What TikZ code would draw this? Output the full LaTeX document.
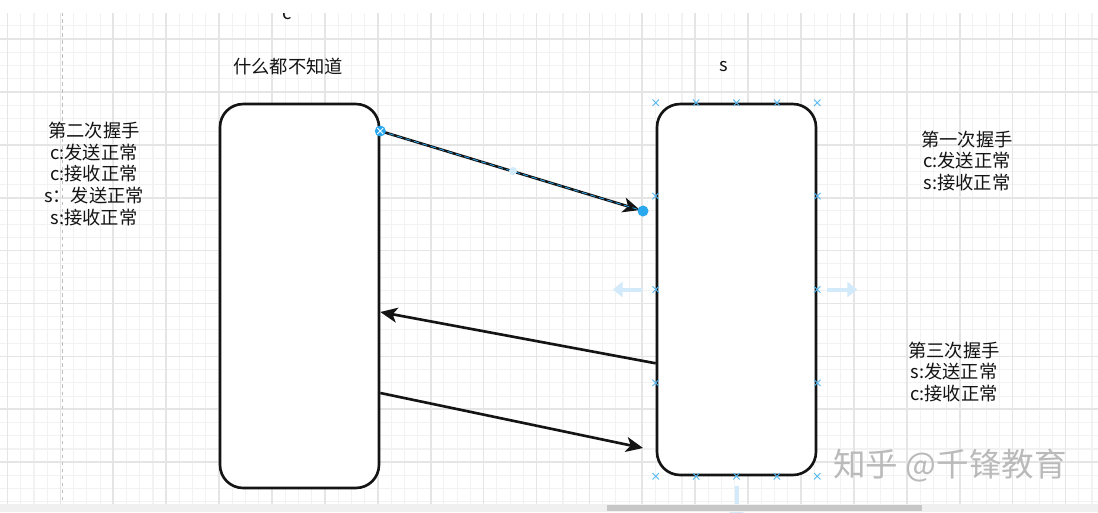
\documentclass[tikz,border=0pt]{standalone}
\usepackage{fontspec}
\newfontfamily\cjk{Noto Sans CJK SC}
\usetikzlibrary{arrows.meta,shapes.misc,calc}
\definecolor{gridminor}{RGB}{242,242,242}
\definecolor{gridmajor}{RGB}{229,229,229}
\definecolor{selblue}{RGB}{41,168,240}
\definecolor{hoverblue}{RGB}{210,234,250}
\definecolor{inkblack}{RGB}{20,20,20}

\begin{document}
\begin{tikzpicture}[
  x=0.02cm, y=-0.02cm,
  lane/.style={draw=inkblack, line width=1.5pt, rounded corners=0.46cm, minimum width=3.18cm, inner sep=0pt, fill=white},
  note/.style={font={\cjk\fontsize{10.4}{12.5}\selectfont}, text=inkblack, align=center, inner sep=0pt},
  shake/.style={draw=inkblack, line width=1.5pt, -{Stealth[length=0.34cm, width=0.3cm, inset=0.09cm]}},
  xmark/.style={cross out, draw=selblue!80, minimum size=0.11cm, inner sep=0pt, line width=0.5pt},
  grip/.style={circle, fill=selblue, minimum size=0.22cm, inner sep=0pt},
  hover/.style={draw=hoverblue, line width=0.08cm, -{Triangle[length=0.2cm, width=0.3cm]}},
  water/.style={font={\cjk\fontsize{18.5}{21}\selectfont}, text=black!27, inner sep=0pt}
]

% canvas and grid
\useasboundingbox (0,0) rectangle (1098,512);
\fill[white] (0,0) rectangle (1098,512);
\begin{scope}
  \clip (0,12) rectangle (1098,504);
  \foreach \i in {0,...,84} \draw[gridminor, line width=0.6pt] ({-5.7+13.225*\i},12) -- ({-5.7+13.225*\i},504);
  \foreach \j in {0,...,37} \draw[gridminor, line width=0.6pt] (0,{12.55+13.225*\j}) -- (1098,{12.55+13.225*\j});
  \foreach \i in {0,...,20} \draw[gridmajor, line width=1pt] ({7.5+52.9*\i},12) -- ({7.5+52.9*\i},504);
  \foreach \j in {0,...,8} \draw[gridmajor, line width=1pt] (0,{39+52.9*\j}) -- (1098,{39+52.9*\j});
\end{scope}
\draw[black!25, dash pattern=on 2pt off 2pt, line width=0.5pt] (62,12) -- (62,504);

% clipped label at the top edge
\node[note, anchor=base] (topc) at (287,19) {c};
\fill[white] (0,0) rectangle (1098,12.5);

% the two parties
\node[lane, minimum height=7.68cm] (client) at (299.5,296) {};
\node[lane, minimum height=7.42cm] (server) at (736.5,289.5) {};
\node[note] (clientlabel) at (288,67) {什么都不知道};
\node[note] (serverlabel) at (724,67) {s};

% hover arrows around the selected box
\draw[hover] ([xshift=-0.28cm]server.west) -- ([xshift=-0.86cm]server.west);
\draw[hover] ([xshift=0.2cm]server.east) -- ([xshift=0.8cm]server.east);
\draw[hover] ([yshift=-0.2cm]server.south) -- ([yshift=-0.9cm]server.south);

% handshake messages
\coordinate (synfrom) at ([yshift=3.3cm]client.east);
\coordinate (synto) at (640,210);
\coordinate (ackto) at (643,448);
\draw[shake, postaction={draw=selblue, line width=0.45pt, dash pattern=on 3pt off 2pt, -}] (synfrom) -- (synto);
\draw[shake] ([yshift=-1.476cm]server.west) -- ([yshift=-0.32cm]client.east);
\draw[shake] ([yshift=-1.94cm]client.east) -- (ackto);

% selection handles
\node[grip] (synstart) at (synfrom) {};
\node[xmark, draw=white, minimum size=0.1cm] at (synstart) {};
\node[grip] (synend) at (643,211) {};
\node[circle, fill=hoverblue, minimum size=0.16cm, inner sep=0pt] (synmid) at (513,171) {};
\foreach \f in {0,0.25,0.5,0.75,1} {
  \node[xmark] at ($(server.north west)!\f!(server.north east)$) {};
  \node[xmark] at ($(server.south west)!\f!(server.south east)$) {};
}
\foreach \f in {0.25,0.5,0.75} {
  \node[xmark] at ($(server.north west)!\f!(server.south west)$) {};
  \node[xmark] at ($(server.north east)!\f!(server.south east)$) {};
}

% notes on each handshake
\node[note] (second) at (94,174) {第二次握手\\c:发送正常\\c:接收正常\\s：发送正常\\s:接收正常};
\node[note] (first) at (967,161) {第一次握手\\c:发送正常\\s:接收正常};
\node[note] (third) at (954,372) {第三次握手\\s:发送正常\\c:接收正常};

% watermark
\node[water] (zhihu) at (950,466) {知乎 @千锋教育};

% scroll bar
\fill[black!6] (0,504) rectangle (1098,512);
\fill[black!22] (607,505) rectangle (922,511);

\end{tikzpicture}
\end{document}
